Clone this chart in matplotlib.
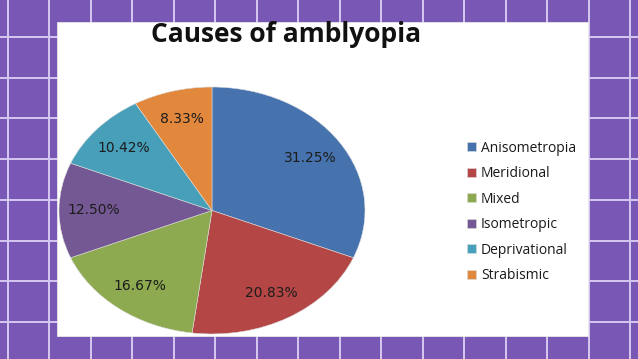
import matplotlib
matplotlib.use('Agg')
import matplotlib.pyplot as plt
from matplotlib.patches import Rectangle
import numpy as np

# data
causes = ['Anisometropia', 'Meridional', 'Mixed', 'Isometropic', 'Deprivational', 'Strabismic']
shares = [31.25, 20.83, 16.67, 12.50, 10.42, 8.33]
colours = ['#4672AE', '#B44745', '#8DAA50', '#735893', '#479FB9', '#E2883D']

W, H = 638, 359
fig = plt.figure(figsize=(W / 100, H / 100), dpi=100)

# slide background: purple with a light grid
bg = fig.add_axes([0, 0, 1, 1])
bg.set_xlim(0, W)
bg.set_ylim(H, 0)
bg.axis('off')
bg.add_patch(Rectangle((0, 0), W, H, color='#7858B4', zorder=0))
for x in np.arange(7.5, W, 41.5):
    bg.axvline(x, color='#D6C8F2', lw=1.4, zorder=1)
for y in np.arange(37, H, 40.7):
    bg.axhline(y, color='#D6C8F2', lw=1.4, zorder=1)
bg.add_patch(Rectangle((57, 22), 531, 314, facecolor='white', edgecolor='#e8e8e8', lw=0.6, zorder=2))

fig.text(286 / W, 1 - 34 / H, 'Causes of amblyopia', ha='center', va='center',
         fontsize=19, fontweight='bold', family='Open Sans', color='#111111')

# elliptical pie, as in the original slide
cx, cy, rx, ry = 212, 210.5, 153, 123.5
ax = fig.add_axes([(cx - rx) / W, (H - cy - ry) / H, 2 * rx / W, 2 * ry / H])
wedges, texts, autotexts = ax.pie(shares, colors=colours, startangle=90, counterclock=False,
                                  autopct='%.2f%%', pctdistance=0.77,
                                  wedgeprops=dict(edgecolor='#dddddd', linewidth=0.4),
                                  textprops=dict(fontsize=10, family='DejaVu Sans', color='#1c1c1c'))
ax.set_aspect('auto')
ax.set_xlim(-1, 1)
ax.set_ylim(-1, 1)

fig.legend(wedges, causes, loc='upper left', bbox_to_anchor=(454 / W, 1 - 128 / H),
           frameon=False, handlelength=0.65, handleheight=0.65, handletextpad=0.4,
           labelspacing=0.76, prop=dict(family='Open Sans', size=10), labelcolor='#1a1a1a')

fig.savefig('out.png', dpi=100)
